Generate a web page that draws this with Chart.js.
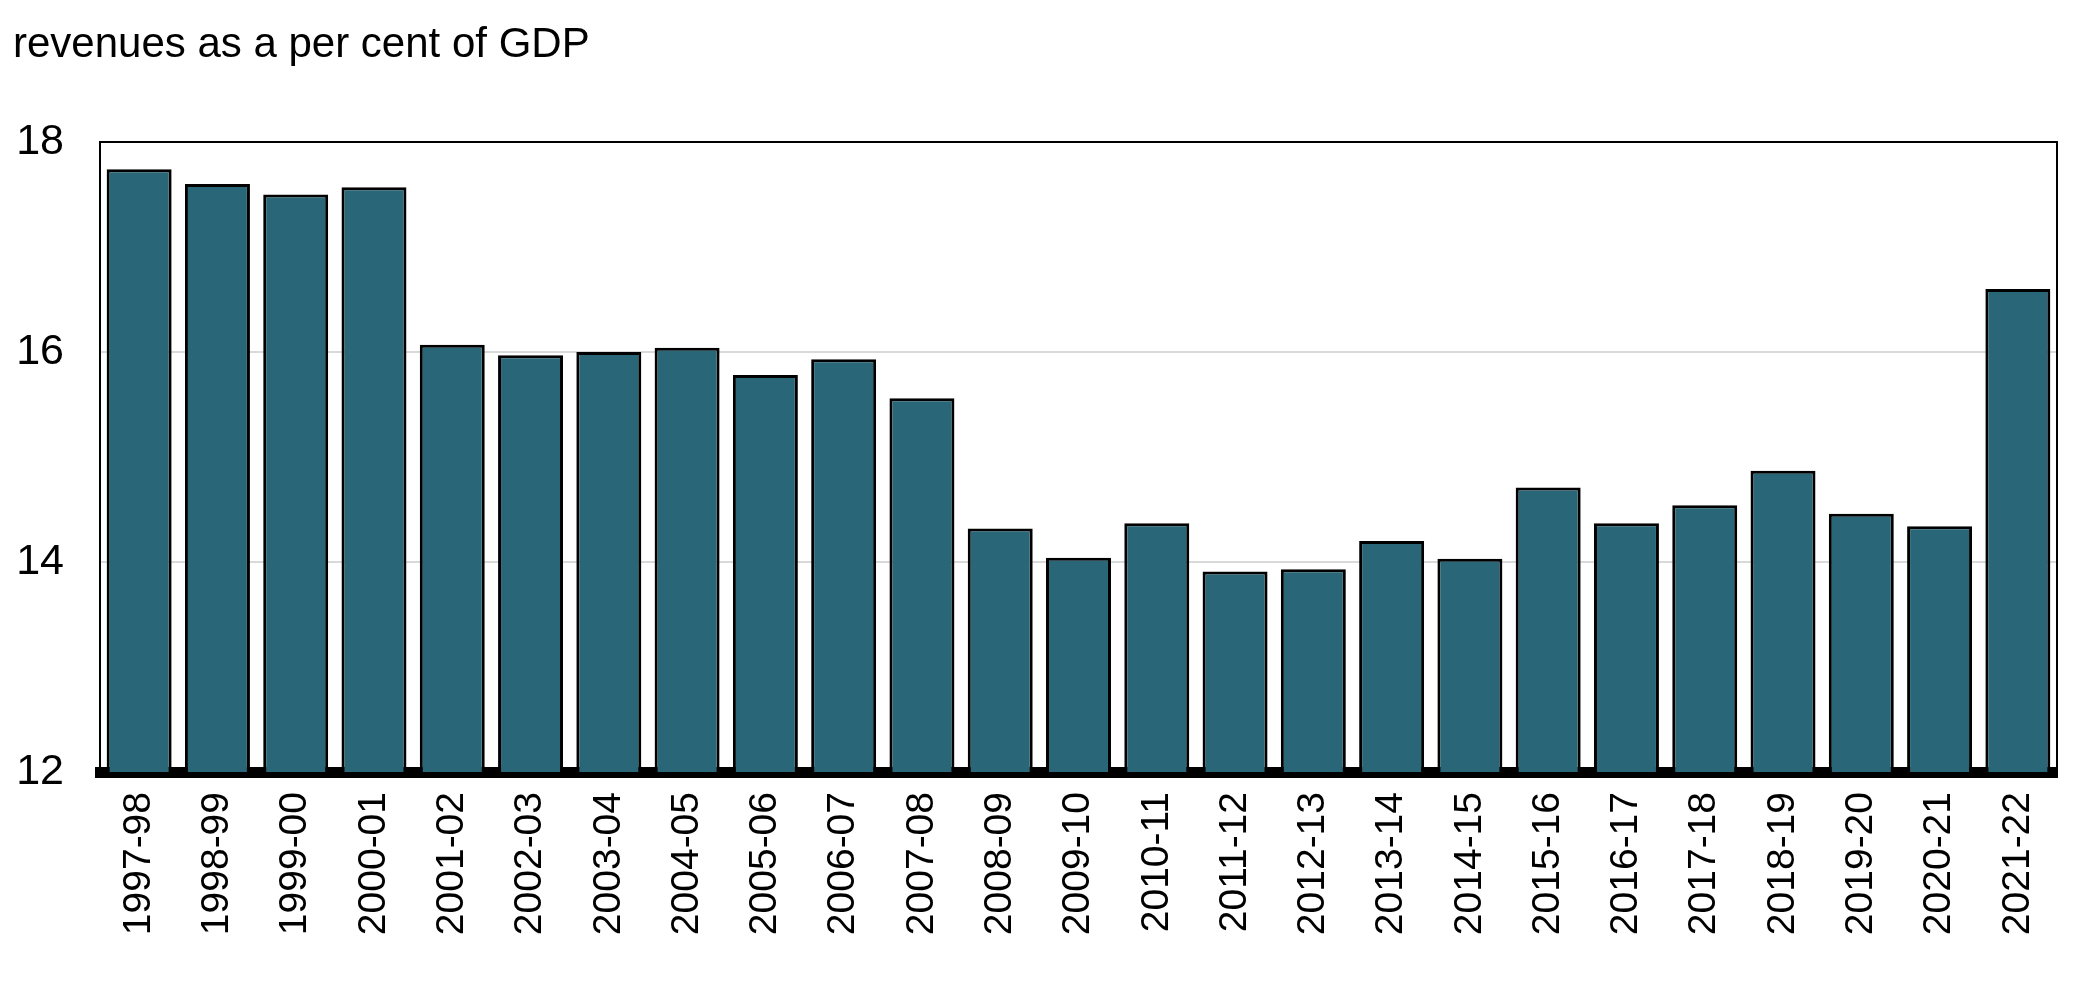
<!DOCTYPE html>
<html>
<head>
<meta charset="utf-8">
<script src="https://cdn.jsdelivr.net/npm/chart.js@4"></script>
<style>
  body { margin: 0; background: #ffffff; }
  #wrap { width: 2091px; height: 1004px; }
</style>
</head>
<body>
<div id="wrap"><canvas id="revChart" width="2091" height="1004"></canvas></div>
<script>
const categories = [
  '1997-98', '1998-99', '1999-00', '2000-01', '2001-02', '2002-03', '2003-04',
  '2004-05', '2005-06', '2006-07', '2007-08', '2008-09', '2009-10', '2010-11',
  '2011-12', '2012-13', '2013-14', '2014-15', '2015-16', '2016-17', '2017-18',
  '2018-19', '2019-20', '2020-21', '2021-22'
];
const revenues = [
  17.74, 17.60, 17.50, 17.57, 16.07, 15.97, 16.00,
  16.04, 15.78, 15.93, 15.56, 14.32, 14.04, 14.37,
  13.91, 13.93, 14.20, 14.03, 14.71, 14.37, 14.54,
  14.87, 14.46, 14.34, 16.60
];
const yTicks = [12, 14, 16, 18];
const titleText = 'revenues as a per cent of GDP';

const fontFamily = '"Liberation Sans", Arial, sans-serif';

// thin black frame on top and right of the plot area
const plotFrame = {
  id: 'plotFrame',
  afterDatasetsDraw(chart) {
    const { ctx, chartArea } = chart;
    ctx.save();
    ctx.strokeStyle = '#000000';
    ctx.lineWidth = 2;
    ctx.beginPath();
    ctx.moveTo(chartArea.left, chartArea.top);
    ctx.lineTo(chartArea.right, chartArea.top);
    ctx.lineTo(chartArea.right, chartArea.bottom);
    ctx.stroke();
    ctx.restore();
  }
};

const ctx = document.getElementById('revChart').getContext('2d');
const chart = new Chart(ctx, {
  type: 'bar',
  data: {
    labels: categories,
    datasets: [{
      data: revenues,
      backgroundColor: '#296778',
      borderColor: '#000000',
      borderWidth: 3,
      categoryPercentage: 1,
      barPercentage: 0.83
    }]
  },
  options: {
    responsive: false,
    animation: false,
    devicePixelRatio: 1,
    layout: { padding: { left: 13, right: 34, top: 0, bottom: 0 } },
    plugins: {
      legend: { display: false },
      tooltip: { enabled: false },
      title: {
        display: true,
        text: titleText,
        align: 'start',
        color: '#000000',
        font: { family: fontFamily, size: 42, weight: 'normal' },
        padding: { top: 20, bottom: 71.6 }
      }
    },
    scales: {
      x: {
        z: 1,
        grid: { display: false, drawTicks: false },
        border: { display: true, color: '#000000', width: 11 },
        ticks: {
          color: '#000000',
          font: { family: fontFamily, size: 39 },
          minRotation: 90,
          maxRotation: 90,
          autoSkip: false,
          padding: 20
        },
        afterFit(scale) { scale.height = 232; }
      },
      y: {
        min: 12,
        max: 18,
        afterBuildTicks(scale) {
          scale.ticks = yTicks.map(v => ({ value: v }));
        },
        grid: { color: '#d9d9d9', lineWidth: 2, drawTicks: false },
        border: { display: true, color: '#000000', width: 2 },
        ticks: {
          color: '#000000',
          font: { family: fontFamily, size: 43 },
          padding: 36
        },
        afterFit(scale) { scale.width = 87; }
      }
    }
  },
  plugins: [plotFrame]
});
</script>
</body>
</html>
